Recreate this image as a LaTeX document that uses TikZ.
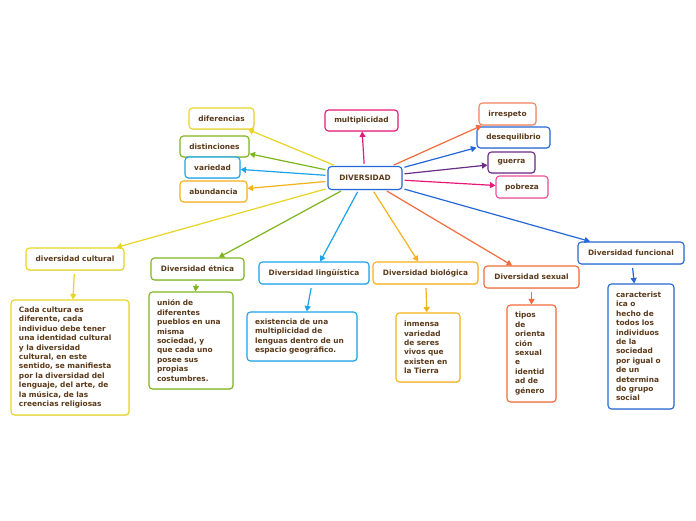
\documentclass[tikz,border=0pt]{standalone}
\usepackage{fontspec}
\setmainfont{DejaVu Sans}
\usetikzlibrary{arrows.meta,shadows}
\definecolor{txt}{HTML}{5B3A1A}
\definecolor{cyellow}{HTML}{E8D424}
\definecolor{cgreen}{HTML}{7DB61C}
\definecolor{clblue}{HTML}{1AA3E8}
\definecolor{corange}{HTML}{F7B21B}
\definecolor{cred}{HTML}{F26B3A}
\definecolor{csalmon}{HTML}{F4825A}
\definecolor{cblue}{HTML}{2468D6}
\definecolor{cpurple}{HTML}{6B2C87}
\definecolor{cpink}{HTML}{E8187A}
\definecolor{cpink2}{HTML}{EE4F96}
\tikzset{
  box/.style={draw, rounded corners=3.5pt, fill=white, line width=1.1pt, text=txt,
    font=\fontsize{7.4}{9.4}\selectfont\bfseries,
    drop shadow={shadow xshift=0.7pt, shadow yshift=-0.9pt, opacity=0.22},
    inner sep=0pt},
  lbl/.style={box, align=center},
  para/.style={box, align=left, inner xsep=8pt},
  conn/.style={line width=1.2pt, -{Triangle[length=5.5pt,width=6pt]}, shorten <=2pt},
  subconn/.style={conn, shorten <=3.5pt}
}
\begin{document}
\begin{tikzpicture}[x=1pt,y=-1pt]
\useasboundingbox[fill=white] (0,0) rectangle (696,520);
% central
\node[lbl, draw=cblue, minimum width=74pt, minimum height=23pt] (div) at (365,178) {DIVERSIDAD};
% upper left
\node[lbl, draw=cyellow, minimum width=65pt, minimum height=21pt] (dif) at (221.5,118.5) {diferencias};
\node[lbl, draw=cgreen, minimum width=69pt, minimum height=21pt] (dis) at (214.5,146.5) {distinciones};
\node[lbl, draw=clblue, minimum width=55pt, minimum height=21pt] (var) at (212.5,167.5) {variedad};
\node[lbl, draw=corange, minimum width=67pt, minimum height=21pt] (abu) at (213.5,191.5) {abundancia};
\node[lbl, draw=cpink, minimum width=73pt, minimum height=21pt] (mul) at (361.5,120.5) {multiplicidad};
% upper right
\node[lbl, draw=csalmon, minimum width=57pt, minimum height=22pt] (irr) at (507.5,114) {irrespeto};
\node[lbl, draw=cblue, minimum width=73pt, minimum height=21pt] (des) at (513.5,137.5) {desequilibrio};
\node[lbl, draw=cpurple, minimum width=47pt, minimum height=21pt] (gue) at (511.5,162.5) {guerra};
\node[lbl, draw=cpink2, minimum width=52pt, minimum height=22pt] (pob) at (522,187) {pobreza};
% diversity types
\node[lbl, draw=cyellow, minimum width=98pt, minimum height=22pt] (lcul) at (75,259) {diversidad cultural};
\node[lbl, draw=cgreen, minimum width=93pt, minimum height=22pt] (letn) at (197.5,269) {Diversidad étnica};
\node[lbl, draw=clblue, minimum width=110pt, minimum height=22pt] (lling) at (314,273) {Diversidad lingüística};
\node[lbl, draw=corange, minimum width=105pt, minimum height=22pt] (lbio) at (425.5,273) {Diversidad biológica};
\node[lbl, draw=cred, minimum width=95pt, minimum height=22pt] (lsex) at (531.5,277) {Diversidad sexual};
\node[lbl, draw=cblue, minimum width=106pt, minimum height=22pt] (lfun) at (631,253) {Diversidad funcional};
% descriptions
\node[para, draw=cyellow, text width=102pt, minimum height=115pt] (tcul) at (70,357.5) {Cada cultura es\\diferente, cada\\individuo debe tener\\una identidad cultural\\y la diversidad\\cultural, en este\\sentido, se manifiesta\\por la diversidad del\\lenguaje, del arte, de\\la música, de las\\creencias religiosas};
\node[para, draw=cgreen, text width=68pt, minimum height=97pt] (tetn) at (191,340.5) {unión de\\diferentes\\pueblos en una\\misma\\sociedad, y\\que cada uno\\posee sus\\propias\\costumbres.};
\node[para, draw=clblue, text width=94pt, minimum height=49pt] (tling) at (302,336.5) {existencia de una\\multiplicidad de\\lenguas dentro de un\\espacio geográfico.};
\node[para, draw=corange, text width=48pt, minimum height=69pt] (tbio) at (428,347.5) {inmensa\\variedad\\de seres\\vivos que\\existen en\\la Tierra};
\node[para, draw=cred, text width=33pt, minimum height=97pt] (tsex) at (531.5,353.5) {tipos\\de\\orienta\\ción\\sexual\\e\\identid\\ad de\\género};
\node[para, draw=cblue, text width=50pt, minimum height=125pt] (tfun) at (641,346.5) {caracterist\\ica o\\hecho de\\todos los\\individuos\\de la\\sociedad\\por igual o\\de un\\determina\\do grupo\\social};
% connectors from center
\draw[conn, cyellow] (div) -- (dif);
\draw[conn, cgreen] (div) -- (dis);
\draw[conn, clblue] (div) -- (var);
\draw[conn, corange] (div) -- (abu);
\draw[conn, cpink] (div) -- (mul);
\draw[conn, cred] (div) -- (irr);
\draw[conn, cblue] (div) -- (des);
\draw[conn, cpurple] (div) -- (gue);
\draw[conn, cpink] (div) -- (pob);
\draw[conn, cyellow] (div) -- (lcul);
\draw[conn, cgreen] (div) -- (letn);
\draw[conn, clblue] (div) -- (lling);
\draw[conn, corange] (div) -- (lbio);
\draw[conn, cred] (div) -- (lsex);
\draw[conn, cblue] (div) -- (lfun);
% sub connectors
\draw[subconn, cyellow] (lcul) -- (tcul);
\draw[subconn, cgreen] (letn) -- (tetn);
\draw[subconn, clblue] (lling) -- (tling);
\draw[subconn, corange] (lbio) -- (tbio);
\draw[subconn, cred] (lsex) -- (tsex);
\draw[subconn, cblue] (lfun) -- (tfun);
\end{tikzpicture}
\end{document}
